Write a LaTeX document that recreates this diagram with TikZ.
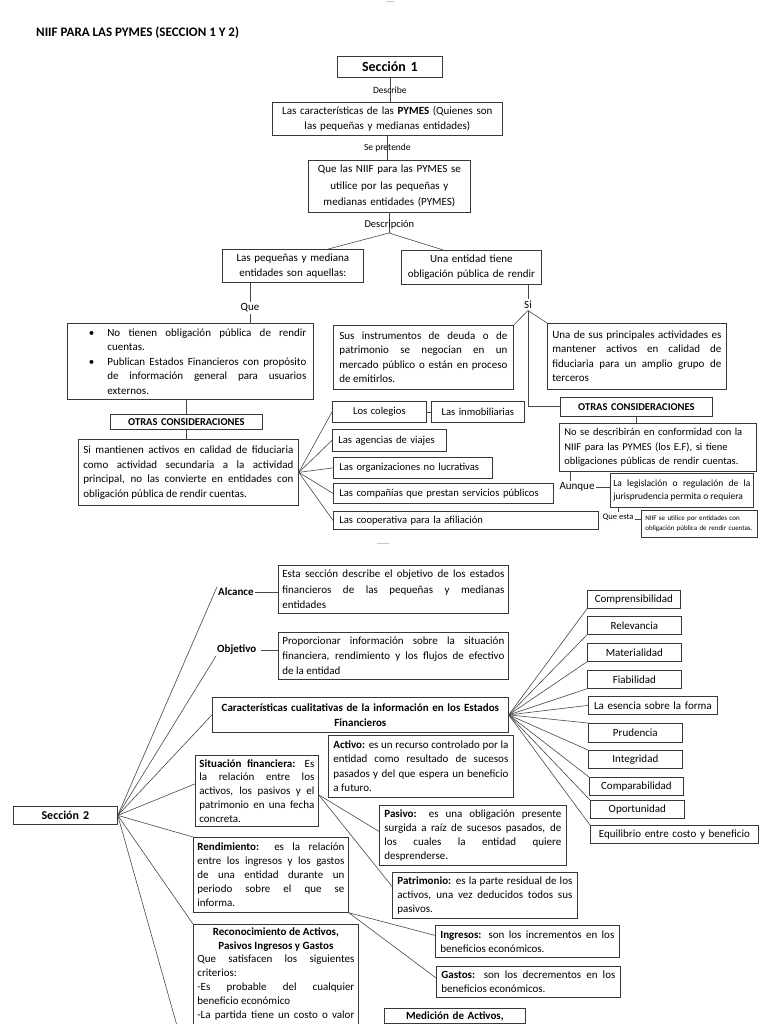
\documentclass[tikz,border=0pt]{standalone}
\usepackage{fontspec}
\setmainfont{Carlito}
\usetikzlibrary{calc}
\tikzset{
  bx/.style={draw=black!78, line width=0.75pt, anchor=north west, inner xsep=5pt, inner ysep=1pt,
             font=\fontsize{11}{14.5}\selectfont},
  jbox/.style={bx, align=justify},
  cbox/.style={bx, align=center},
  lbox/.style={bx, align=left, inner xsep=6pt, font=\fontsize{10.6}{13}\selectfont},
  lbl/.style={inner sep=1pt, font=\fontsize{9.5}{11}\selectfont},
  lblb/.style={inner sep=1.5pt, font=\fontsize{11}{13}\selectfont},
  ln/.style={draw=black!72, line width=0.6pt},
  pgmark/.style={draw=gray!45, line width=0.9pt}
}
\begin{document}
\begin{tikzpicture}[x=1pt,y=-1pt]
\useasboundingbox (0,0) rectangle (768,1024);
\fill[white] (0,0) rectangle (768,1024);
\clip (0,0) rectangle (768,1024);

% page marks
\draw[pgmark] (386,1.5) -- (394,1.5);
\draw[pgmark] (377,543) -- (389,543);

% title
\node[anchor=west, inner sep=0pt, font=\bfseries\fontsize{13}{15}\selectfont] (title) at (36,33) {NIIF PARA LAS PYMES (SECCION 1 Y 2)};

%================ SECCION 1 =================
\node[cbox, minimum width=105pt, minimum height=21pt, text width=95pt, font=\bfseries\fontsize{14}{16}\selectfont] (sec1) at (337,56) {Sección 1};
\node[cbox, minimum height=33pt, text width=220pt, font=\fontsize{11}{15}\selectfont] (b2) at (272,102) {Las características de las \textbf{PYMES} (Quienes son\\las pequeñas y medianas entidades)};
\node[cbox, minimum height=52pt, text width=152pt, font=\fontsize{11}{16.5}\selectfont] (b3) at (308,160) {Que las NIIF para las PYMES se\\utilice por las pequeñas y\\medianas entidades (PYMES)};

\draw[ln] (sec1.south) -- node[lbl]{Describe} (sec1.south |- b2.north);
\draw[ln] (b2.south) -- node[lbl]{Se pretende} (b2.south |- b3.north);
\coordinate (fork) at (389,233);
\draw[ln] (b3.south) -- node[lbl, pos=0.6, font=\fontsize{10.5}{12}\selectfont]{Descripción} (b3.south |- fork);

\node[cbox, minimum height=33pt, text width=131pt, font=\fontsize{11}{15}\selectfont] (b4L) at (222,249) {Las pequeñas y mediana\\entidades son aquellas:};
\node[cbox, minimum height=34pt, text width=130pt, font=\fontsize{11}{15}\selectfont] (b4R) at (401,250) {Una entidad tiene\\obligación pública de rendir};
\draw[ln] (fork) -- ($(b4L.north west)!0.75!(b4L.north east)$);
\draw[ln] (fork) -- ($(b4R.north west)!0.3!(b4R.north east)$);

% left branch
\node[lblb] (que) at (250,308) {Que};
\node[jbox, inner xsep=7pt, minimum height=76pt, text width=232pt] (bul) at (67,323) {%
\leftskip=33pt\noindent\llap{\textbullet\hspace{13pt}}No tienen obligación pública de rendir\linebreak cuentas.\par
\noindent\llap{\textbullet\hspace{13pt}}Publican Estados Financieros con propósito\linebreak de información general para usuarios\linebreak externos.\par};
\draw[ln] (que.north) -- (que.north |- b4L.south);
\draw[ln] (que.south) -- (que.south |- bul.north);

\node[cbox, minimum height=15pt, text width=142pt, font=\bfseries\fontsize{10.5}{12}\selectfont] (otras1) at (110,414) {OTRAS CONSIDERACIONES};
\node[jbox, minimum height=66pt, text width=210pt] (si) at (78,439) {Si mantienen activos en calidad de fiduciaria\linebreak como actividad secundaria a la actividad\linebreak principal, no las convierte en entidades con\linebreak obligación pública de rendir cuentas.};
\draw[ln] (otras1.north) -- (otras1.north |- bul.south);
\draw[ln] (otras1.south) -- (otras1.south |- si.north);

\node[cbox, minimum height=21pt, text width=84pt, font=\fontsize{10.6}{13}\selectfont] (col) at (332,401) {Los colegios};
\node[cbox, minimum height=21pt, text width=83pt, font=\fontsize{10.6}{13}\selectfont] (inm) at (431,401) {Las inmobiliarias};
\node[lbox, minimum height=22pt, text width=102pt] (age) at (332,429) {Las agencias de viajes};
\node[lbox, minimum height=21pt, text width=147pt] (org) at (333,457) {Las organizaciones no lucrativas};
\node[lbox, minimum height=20pt, text width=208pt] (comp) at (333,483) {Las compañías que prestan servicios públicos};
\node[lbox, minimum height=18pt, text width=253pt] (coop) at (333,511) {Las cooperativa para la afiliación};
\draw[ln] (col.east) -- (inm.west);
\foreach \t in {col,age,org,comp,coop}{\draw[ln] (si.east) -- (\t.west);}

% right branch
\node[lblb] (si2) at (528,305) {Si};
\node[jbox, inner xsep=6pt, minimum height=64pt, text width=168pt] (ins) at (333,325) {Sus instrumentos de deuda o de\linebreak patrimonio se negocian en un\linebreak mercado público o están en proceso\linebreak de emitirlos.};
\node[jbox, minimum height=66pt, text width=169pt] (una) at (547,323) {Una de sus principales actividades es\linebreak mantener activos en calidad de\linebreak fiduciaria para un amplio grupo de\linebreak terceros};
\node[cbox, minimum height=19pt, text width=142pt, font=\bfseries\fontsize{10.5}{12}\selectfont] (otras2) at (560,397) {OTRAS CONSIDERACIONES};
\draw[ln] (si2.north) -- (si2.north |- b4R.south);
\draw[ln] (si2.south) -- (ins.north east);
\draw[ln] (si2.south) -- (una.north west);
\draw[ln, line width=0.9pt] (si2.south) |- (otras2.west);

\node[bx, align=left, inner xsep=5pt, minimum height=48pt, text width=187pt, font=\fontsize{10.5}{14.5}\selectfont] (nose) at (559,423) {No se describirán en conformidad con la\\NIIF para las PYMES (los E.F), si tiene\\obligaciones públicas de rendir cuentas.};
\draw[ln] (otras2.south) -- (otras2.south |- nose.north);

\node[lblb] (aunque) at (577,487) {Aunque};
\node[jbox, inner xsep=3pt, minimum height=34pt, text width=137pt, font=\fontsize{9.5}{13}\selectfont] (leg) at (610,473) {\parfillskip=0pt La legislación o regulación de la\linebreak jurisprudencia permita o requiera};
\draw[ln] ([xshift=-7pt]aunque.north) -- ([xshift=-7pt]aunque.north |- nose.south);
\draw[ln] (aunque.east) -- (aunque.east -| leg.west);

\node[lbl, font=\fontsize{8.5}{10}\selectfont] (queesta) at (618,517) {Que esta};
\node[bx, align=left, inner xsep=4pt, minimum height=27pt, text width=108pt, font=\fontsize{7}{10.5}\selectfont] (niif) at (641,510) {NIIF se utilice por entidades con\\obligación pública de rendir cuentas.};
\draw[ln] (queesta.north) -- (queesta.north |- leg.south);
\draw[ln] ([yshift=-2pt]queesta.east) -- ([yshift=-2pt]queesta.east -| niif.west);

%================ SECCION 2 =================
\node[cbox, minimum height=18pt, text width=94pt, font=\bfseries\fontsize{12}{14}\selectfont] (sec2) at (13,806) {Sección 2};

\node[anchor=west, inner sep=1pt, font=\bfseries\fontsize{11}{13}\selectfont] (alc) at (217,592) {Alcance};
\node[anchor=west, inner sep=1pt, font=\bfseries\fontsize{11}{13}\selectfont] (obj) at (216,650) {Objetivo};
\node[jbox, inner xsep=4pt, minimum height=48pt, text width=222pt, font=\fontsize{11}{15.5}\selectfont] (alcb) at (278,565) {Esta sección describe el objetivo de los estados\linebreak financieros de las pequeñas y medianas\linebreak entidades};
\node[jbox, inner xsep=4pt, minimum height=47pt, text width=222pt, font=\fontsize{11}{15}\selectfont] (objb) at (278,632) {Proporcionar información sobre la situación\linebreak financiera, rendimiento y los flujos de efectivo\linebreak de la entidad};
\draw[ln] (alc.east) -- (alc.east -| alcb.west);
\draw[ln] (obj.east) ++(4,0) -- (obj.east -| objb.west);

\node[cbox, minimum height=35pt, text width=286pt, font=\bfseries\fontsize{11}{15}\selectfont] (car) at (212,697) {Características cualitativas de la información en los Estados\\Financieros};

\node[cbox, minimum height=18pt, text width=83pt] (q1) at (587,590) {Comprensibilidad};
\node[cbox, minimum height=18pt, text width=84pt] (q2) at (587,616) {Relevancia};
\node[cbox, minimum height=18pt, text width=84pt] (q3) at (587,643) {Materialidad};
\node[cbox, minimum height=18pt, text width=84pt] (q4) at (587,670) {Fiabilidad};
\node[cbox, minimum height=18pt, text width=119pt] (q5) at (588,696) {La esencia sobre la forma};
\node[cbox, minimum height=19pt, text width=84pt] (q6) at (588,723) {Prudencia};
\node[cbox, minimum height=18pt, text width=84pt] (q7) at (588,750) {Integridad};
\node[cbox, minimum height=18pt, text width=84pt] (q8) at (589,777) {Comparabilidad};
\node[cbox, minimum height=18pt, text width=84pt] (q9) at (590,800) {Oportunidad};
\node[cbox, minimum height=18pt, text width=158pt] (q10) at (590,825) {Equilibrio entre costo y beneficio};
\foreach \q in {q1,q2,q3,q4}{\draw[ln] (car.east) -- (\q.south west);}
\draw[ln] (car.east) -- (q5.west);
\foreach \q in {q6,q7,q8,q9,q10}{\draw[ln] (car.east) -- (\q.north west);}

\node[jbox, minimum height=62pt, text width=175pt] (act) at (328,735) {\textbf{Activo:} es un recurso controlado por la\linebreak entidad como resultado de sucesos\linebreak pasados y del que espera un beneficio\linebreak a futuro.};
\node[jbox, inner xsep=4pt, minimum height=71pt, text width=115pt, font=\fontsize{11}{13.8}\selectfont] (sit) at (195,755) {\textbf{Situación financiera:} Es\linebreak la relación entre los\linebreak activos, los pasivos y el\linebreak patrimonio en una fecha\linebreak concreta.};
\node[jbox, minimum height=60pt, text width=177pt, font=\fontsize{11}{14}\selectfont] (pas) at (379,805) {\textbf{Pasivo:} es una obligación presente\linebreak surgida a raíz de sucesos pasados, de\linebreak los cuales la entidad quiere\linebreak desprenderse.};
\node[jbox, minimum height=46pt, text width=175pt, font=\fontsize{11}{14}\selectfont] (pat) at (392,872) {\textbf{Patrimonio:} es la parte residual de los\linebreak activos, una vez deducidos todos sus\linebreak pasivos.};
\node[jbox, inner xsep=4pt, minimum height=75pt, text width=147pt, font=\fontsize{11}{13.9}\selectfont] (ren) at (193,837) {\textbf{Rendimiento:} es la relación\linebreak entre los ingresos y los gastos\linebreak de una entidad durante un\linebreak periodo sobre el que se\linebreak informa.};
\node[jbox, minimum height=32pt, text width=174pt, font=\fontsize{11}{14}\selectfont] (ing) at (435,925) {\textbf{Ingresos:} son los incrementos en los\linebreak beneficios económicos.};
\node[jbox, minimum height=31pt, text width=174pt, font=\fontsize{11}{14}\selectfont] (gas) at (436,966) {\textbf{Gastos:} son los decrementos en los\linebreak beneficios económicos.};
\node[jbox, inner xsep=4pt, inner ysep=3pt, text width=157pt, font=\fontsize{11}{13.9}\selectfont] (rec) at (193,924) {{\centering\textbf{Reconocimiento de Activos,}\\\textbf{Pasivos Ingresos y Gastos}\par}Que satisfacen los siguientes\linebreak criterios:\newline -Es probable del cualquier\linebreak beneficio económico\newline -La partida tiene un costo o valor\linebreak\mbox{}\par\vspace{20pt}};
\node[cbox, inner ysep=3pt, text width=131pt, font=\bfseries\fontsize{11}{14}\selectfont] (med) at (384,1008) {Medición de Activos,\par\vspace{30pt}};

\coordinate (offpage) at (181,1040);
\draw[ln] (sec2.east) -- (alc.north west);
\draw[ln] (sec2.east) -- (obj.south west);
\draw[ln] (sec2.east) -- (car.west);
\draw[ln] (sec2.east) -- ([yshift=7pt]sit.west);
\draw[ln] (sec2.east) -- (ren.north west);
\draw[ln] (sec2.east) -- (rec.north west);
\draw[ln] (sec2.east) -- (offpage);
\draw[ln] ([yshift=-4pt]sit.east) -- ([yshift=4pt]pas.west);
\draw[ln] ([yshift=-4pt]sit.east) -- ([yshift=9pt]pat.west);
\draw[ln] (ren.south east) -- ([yshift=6pt]ing.west);
\draw[ln] (ren.south east) -- ([yshift=4pt]gas.west);
\end{tikzpicture}
\end{document}
